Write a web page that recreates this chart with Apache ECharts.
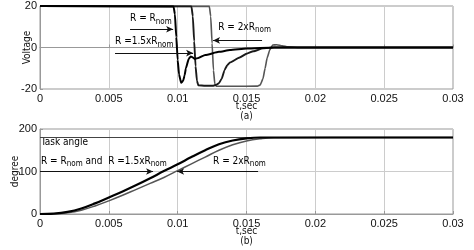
<!DOCTYPE html>
<html>
<head>
<meta charset="utf-8">
<script src="https://cdn.jsdelivr.net/npm/echarts@6.0.0/dist/echarts.min.js"></script>
<style>
  html, body { margin: 0; padding: 0; background: #fff; }
  #chart { width: 474px; height: 250px; }
</style>
</head>
<body>
<div id="chart"></div>
<script>
// (a) voltage, one time array per curve
const tNom = [0, 0.0097, 0.0098, 0.0099, 0.0100, 0.0101, 0.01025, 0.0104, 0.0105, 0.0106, 0.0108, 0.01095, 0.0111, 0.01125, 0.0115, 0.012, 0.013, 0.0138, 0.015, 0.017, 0.03];
const vNom = [20, 19.8, 16, 5, -6, -13, -17, -16, -13.5, -10, -5.5, -4.3, -4.8, -5.5, -5, -3.6, -2.1, -1.2, -0.5, 0, 0];

const t15 = [0, 0.0110, 0.0111, 0.0112, 0.0113, 0.0114, 0.0115, 0.0120, 0.0126, 0.0128, 0.0130, 0.0132, 0.0134, 0.0136, 0.0138, 0.0145, 0.0150, 0.0155, 0.0162, 0.0170, 0.03];
const v15 = [20, 19.8, 15, 3, -9, -16, -18.2, -18.4, -18.4, -18, -17.2, -15, -11, -8.5, -7.2, -4.8, -3, -1.8, -0.4, 0, 0];

const t2 = [0, 0.0123, 0.0124, 0.0125, 0.0126, 0.0127, 0.0128, 0.014, 0.0158, 0.016, 0.0162, 0.01635, 0.0165, 0.0167, 0.0169, 0.0172, 0.0176, 0.018, 0.019, 0.03];
const v2 = [20, 19.8, 15, 2, -11, -17.5, -18.6, -18.7, -18.6, -18, -15, -10, -5, -1, 1.2, 1.3, 0.8, 0.3, 0, 0];

// (b) angle
const tAng = [0, 0.001, 0.002, 0.003, 0.004, 0.005, 0.006, 0.007, 0.008, 0.009, 0.010, 0.011, 0.012, 0.013, 0.014, 0.015, 0.016, 0.017, 0.03];
const angNom = [0, 1, 5, 13, 25, 39, 53, 68, 84, 101, 117, 134, 150, 164, 173, 178, 180, 180, 180];
const ang2 = [0, 0.5, 3, 9, 19, 31, 44, 58, 72, 86, 102, 118, 134, 150, 163, 172, 177, 179.5, 180];
const taskT = [0, 0.03];
const taskAng = [180, 180];

const zip = (xs, ys) => xs.map((x, i) => [x, ys[i]]);
const font = "Liberation Sans";
const narrow = "'Liberation Sans Narrow', 'DejaVu Sans Condensed', 'Liberation Sans'";

const chart = echarts.init(document.getElementById("chart"));

const xAxisBase = {
  type: "value",
  min: 0,
  max: 0.03,
  interval: 0.005,
  axisLine: { lineStyle: { color: "#999" } },
  axisTick: { inside: true, length: 3, lineStyle: { color: "#999" } },
  axisLabel: { color: "#111", fontFamily: font, fontSize: 11, margin: 4 },
  splitLine: { show: true, lineStyle: { color: "#ccc" } },
  nameLocation: "middle",
  nameGap: 12,
  nameMoveOverlap: false,
  nameTextStyle: { color: "#111", fontFamily: narrow, fontSize: 10, lineHeight: 10, verticalAlign: "top" },
};
const yAxisBase = {
  type: "value",
  axisLine: { show: true, lineStyle: { color: "#999" } },
  axisTick: { show: true, inside: true, length: 3, lineStyle: { color: "#999" } },
  axisLabel: { color: "#111", fontFamily: font, fontSize: 11, margin: 3 },
  splitLine: { show: true, lineStyle: { color: "#ccc" } },
  nameLocation: "middle",
  nameMoveOverlap: false,
  nameTextStyle: { color: "#111", fontFamily: narrow, fontSize: 10 },
};

const arrow = (x1, x2, y) => [{ coord: [x1, y] }, { coord: [x2, y] }];
const arrowStyle = {
  silent: true,
  symbol: ["none", "arrow"],
  symbolSize: [5, 7],
  label: { show: false },
  lineStyle: { color: "#111", width: 1.2, type: "solid" },
};

const option = {
  animation: false,
  grid: [
    { left: 40, right: 21, top: 6, height: 83, show: true, borderColor: "#999", borderWidth: 1, outerBoundsMode: "none" },
    { left: 40, right: 21, top: 129, height: 85, show: true, borderColor: "#999", borderWidth: 1, outerBoundsMode: "none" },
  ],
  xAxis: [
    Object.assign({}, xAxisBase, { gridIndex: 0, name: "t,sec\n(a)" }),
    Object.assign({}, xAxisBase, { gridIndex: 1, name: "t,sec\n(b)" }),
  ],
  yAxis: [
    Object.assign({}, yAxisBase, { gridIndex: 0, min: -20, max: 20, interval: 20, name: "Voltage", nameGap: 8 }),
    Object.assign({}, yAxisBase, { gridIndex: 1, min: 0, max: 200, interval: 100, name: "degree", nameGap: 20 }),
  ],
  series: [
    {
      type: "line", xAxisIndex: 0, yAxisIndex: 0, data: zip(t2, v2),
      showSymbol: false, smooth: 0.15, smoothMonotone: "x", clip: false,
      lineStyle: { color: "#555", width: 1.6 },
      markLine: Object.assign({}, arrowStyle, { data: [arrow(0.01613, 0.01257, 3.4)] }),
    },
    {
      type: "line", xAxisIndex: 0, yAxisIndex: 0, data: zip(t15, v15),
      showSymbol: false, smooth: 0.15, smoothMonotone: "x", clip: false,
      lineStyle: { color: "#1a1a1a", width: 1.9 },
      markLine: Object.assign({}, arrowStyle, { data: [arrow(0.00545, 0.01112, -2.7)] }),
    },
    {
      type: "line", xAxisIndex: 0, yAxisIndex: 0, data: zip(tNom, vNom),
      showSymbol: false, smooth: 0.15, smoothMonotone: "x", clip: false,
      lineStyle: { color: "#000", width: 2 },
      markLine: Object.assign({}, arrowStyle, { data: [arrow(0.00654, 0.00967, 8.8)] }),
    },
    {
      type: "line", xAxisIndex: 1, yAxisIndex: 1, data: zip(taskT, taskAng),
      showSymbol: false, lineStyle: { color: "#444", width: 1.2 },
    },
    {
      type: "line", xAxisIndex: 1, yAxisIndex: 1, data: zip(tAng, ang2),
      showSymbol: false, smooth: 0.4,
      lineStyle: { color: "#555", width: 1.5 },
      markLine: Object.assign({}, arrowStyle, { data: [arrow(0.01584, 0.00996, 100)] }),
    },
    {
      type: "line", xAxisIndex: 1, yAxisIndex: 1, data: zip(tAng, angNom),
      showSymbol: false, smooth: 0.4,
      lineStyle: { color: "#000", width: 2.2 },
      markLine: Object.assign({}, arrowStyle, { data: [arrow(0, 0.00821, 100)] }),
    },
  ],
};
chart.setOption(option);

// annotation texts, anchored in data coordinates: [grid, t, value, rich text]
const notes = [
  [0, 0.00654, 13.3, "{a|R = R}{s|nom}"],
  [0, 0.00545, 2.3, "{a|R =1.5xR}{s|nom}"],
  [0, 0.01294, 9.4, "{a|R = 2xR}{s|nom}"],
  [1, 0.00007, 167, "{a|Task angle}"],
  [1, 0.00007, 122, "{a|R = R}{s|nom}{a| and  R =1.5xR}{s|nom}"],
  [1, 0.01257, 122, "{a|R = 2xR}{s|nom}"],
];
const rich = {
  a: { fontFamily: narrow, fontSize: 10, color: "#111", verticalAlign: "top", lineHeight: 12 },
  s: { fontFamily: narrow, fontSize: 8, color: "#111", verticalAlign: "bottom", lineHeight: 9, padding: [7, 0, 0, 0] },
};
chart.setOption({
  graphic: notes.map(([g, t, v, txt]) => {
    const p = chart.convertToPixel({ xAxisIndex: g, yAxisIndex: g }, [t, v]);
    return {
      type: "text", x: p[0], y: p[1] - 6, silent: true,
      style: { text: txt, rich: rich, textVerticalAlign: "top" },
    };
  }),
});
</script>
</body>
</html>
